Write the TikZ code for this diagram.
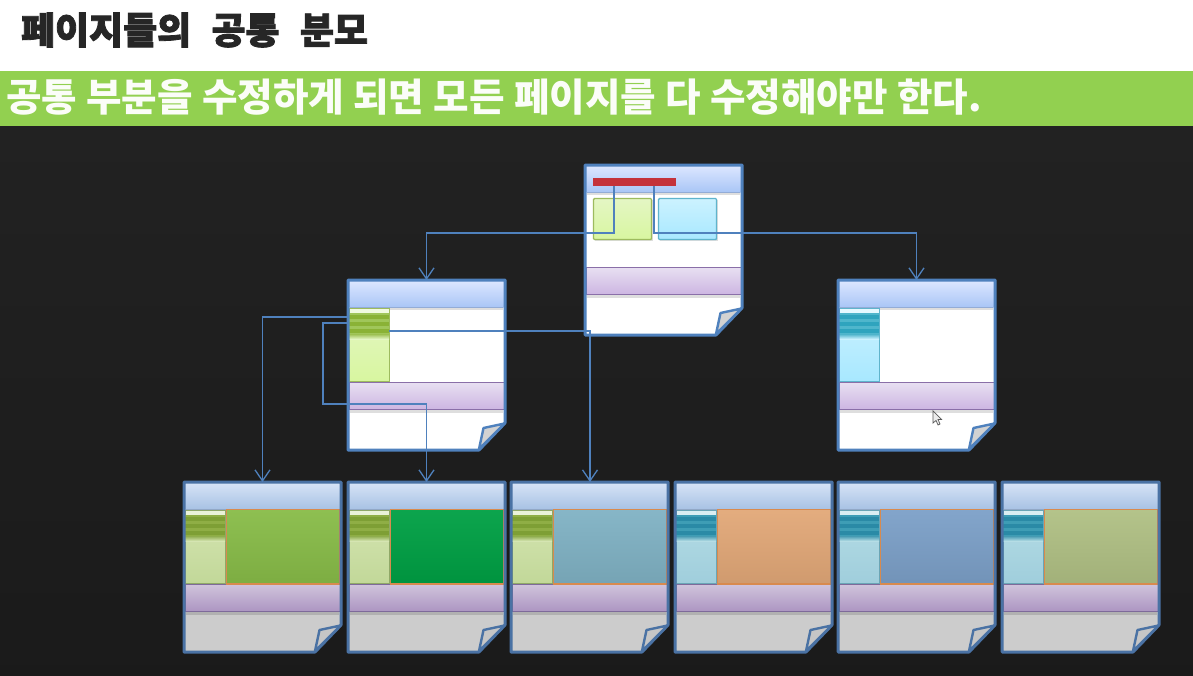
\documentclass[tikz,border=0pt]{standalone}
\usepackage{fontspec}
\setmainfont{Noto Sans CJK KR}
\newfontfamily\krbold{Noto Sans CJK KR}[WordSpace=2.4,BoldFeatures={FakeBold=2.2}]
\newfontfamily\krsub{Noto Sans CJK KR}[WordSpace=1.05]
\usetikzlibrary{arrows.meta,calc}
\definecolor{bg}{HTML}{1F1F1F}
\definecolor{bgtop}{HTML}{222222}
\definecolor{barg}{HTML}{92D050}
\definecolor{edge}{HTML}{4F81BD}
\definecolor{conn}{HTML}{4F81BD}
\definecolor{orangeedge}{HTML}{D88A4E}
\tikzset{
  x=1pt,y=-1pt,
  inner sep=0pt,outer sep=0pt,
  box/.style={rectangle,anchor=north west},
  header/.style={box,minimum width=154pt,minimum height=26pt,top color=hdtop,bottom color=hdbot},
  footer/.style={box,minimum width=155pt,minimum height=27pt,top color=fttop,bottom color=ftbot,draw=ftline,line width=.8pt},
  side/.style={box,minimum width=40.5pt,minimum height=73pt,draw=#1,line width=1pt},
  stripes/.style={box,minimum width=40pt,minimum height=21pt,fill=#1},
  content/.style={box,minimum width=113.5pt,minimum height=74.5pt,draw=orangeedge,line width=1.2pt},
  tile/.style={box,minimum width=58pt,minimum height=41pt,rounded corners=1pt,line width=1.4pt},
  pagearea/.style={box,minimum width=157pt,minimum height=170pt},
  connector/.style={draw=conn,line width=1.3pt,-{Straight Barb[length=11pt,width=15pt,line width=1.3pt]}},
  outline/.style={draw=pageedge,line width=3pt,line join=round},
  softshadow/.style={fill=black,opacity=.13},
  heading/.style={anchor=west,text=black!85},
  subheading/.style={anchor=west,text=white!96!barg},
}
% page: name, x, y
\newcommand{\pagebase}[3]{%
  \node[pagearea] (#1) at (#2,#3) {};
  \begin{scope}[shift={(#2,#3)}]
    \fill[paper] (0,0) -- (157,0) -- (157,143) -- (131,170) -- (0,170) -- cycle;
    \node[header] (#1head) at (1.5,1) {};
    \fill[softshadow] (2,27) rectangle (155,29.5);
    \node[footer] (#1foot) at (1,102) {};
    \fill[softshadow] (2,129.5) rectangle (155,132.5);
  \end{scope}
}
\newcommand{\pagefinish}[3]{%
  \begin{scope}[shift={(#2,#3)}]
    \draw[outline] (0,0) -- (157,0) -- (157,143) -- (131,170) -- (0,170) -- cycle;
    \draw[pageedge,line width=2.4pt,line join=round,fill=foldc] (131,169) -- (135.5,148) -- (156.5,143.5) -- cycle;
  \end{scope}
}
% side panel: name, x, y, panel top, panel bottom, stripe colour, dark colour, edge
\newcommand{\sidepanel}[8]{%
  \begin{scope}[shift={(#2,#3)}]
    \node[side=#8,top color=#4,bottom color=#5] (#1side) at (1,28) {};
    \fill[#4!50!white] (1.5,28.6) rectangle (41,33);
    \node[stripes=#6] (#1stripe) at (1.2,33) {};
    \fill[#7] (1.2,35) rectangle (41.2,39);
    \fill[#7] (1.2,42) rectangle (41.2,46);
    \fill[#7] (1.2,49) rectangle (41.2,53);
    \shade[top color=#7!80!#4,bottom color=#4] (1.2,54) rectangle (41.2,59);
  \end{scope}
}
\newcommand{\bottompage}[9]{%
  \pagebase{#1}{#2}{#3}
  \sidepanel{#1}{#2}{#3}{#4}{#5}{#6}{#7}{#8}
  \begin{scope}[shift={(#2,#3)}]
    \node[content,top color=#9!95!white,bottom color=#9!92!black] (#1main) at (42.5,27.5) {};
  \end{scope}
  \pagefinish{#1}{#2}{#3}
}
\begin{document}
\begin{tikzpicture}
\useasboundingbox (0,0) rectangle (1193,675);
\fill[white] (0,0) rectangle (1193,71);
\shade[top color=bgtop,bottom color=bg!85!black] (0,126) rectangle (1193,675);
\node[box,minimum width=1193pt,minimum height=55pt,fill=barg] (band) at (0,71) {};
\node[heading] (title) at (21,30) {\fontsize{37}{42}\krbold\bfseries 페이지들의 공통 분모};
\node[subheading] (subtitle) at (6,97.5) {\fontsize{38.6}{42}\krsub\bfseries 공통 부분을 수정하게 되면 모든 페이지를 다 수정해야만 한다.};

% lit pages
\colorlet{paper}{white}\colorlet{foldc}{gray!35}
\colorlet{pageedge}{edge}
\definecolor{hdtop}{HTML}{DCE6FF}\definecolor{hdbot}{HTML}{A9C6F6}
\definecolor{fttop}{HTML}{E8E0F2}\definecolor{ftbot}{HTML}{CDB6E2}
\definecolor{ftline}{HTML}{8A6FA8}
\definecolor{lgp}{HTML}{E4F6C4}\definecolor{lgq}{HTML}{D8F6A0}
\definecolor{lgs}{HTML}{A0C65A}\definecolor{lgd}{HTML}{8AB236}\definecolor{lge}{HTML}{9DBB5E}
\definecolor{lbp}{HTML}{CCF2FF}\definecolor{lbq}{HTML}{A8E8FF}
\definecolor{lbs}{HTML}{4FB6CC}\definecolor{lbd}{HTML}{2FA4BE}\definecolor{lbe}{HTML}{5FB4CC}
\definecolor{redfill}{HTML}{C4323A}

% top page
\pagebase{top}{585}{165}
\fill[softshadow] (594.5,199.5) rectangle (653,241);
\fill[softshadow] (659.5,199.5) rectangle (718,241);
\node[tile,draw=lge,top color=lgp,bottom color=lgq] (tileg) at (593.5,198.5) {};
\node[tile,draw=lbe,top color=lbp,bottom color=lbq] (tileb) at (658.5,198.5) {};
\node[box,minimum width=83pt,minimum height=8pt,fill=redfill] (redbar) at (593,178) {};
\pagefinish{top}{585}{165}

% middle pages
\pagebase{midl}{348}{280}
\sidepanel{midl}{348}{280}{lgp}{lgq}{lgs}{lgd}{lge}
\pagefinish{midl}{348}{280}

\pagebase{midr}{838}{280}
\sidepanel{midr}{838}{280}{lbp}{lbq}{lbs}{lbd}{lbe}
\pagefinish{midr}{838}{280}

% cursor
\draw[gray!70!black,fill=white!85!gray,line width=.7pt] (933,411) -- (933,423) -- (936,420.5) -- (938,425) -- (940,424) -- (938,419.5) -- (941.5,419.5) -- cycle;

% dimmed bottom row
\begin{scope}
\colorlet{paper}{black!20}\colorlet{foldc}{gray!45}
\definecolor{pageedge}{HTML}{4A72A4}
\definecolor{hdtop}{HTML}{D6E3F6}\definecolor{hdbot}{HTML}{A8C2E4}
\definecolor{fttop}{HTML}{D0C4DC}\definecolor{ftbot}{HTML}{AD96C2}
\definecolor{ftline}{HTML}{7E6A9A}
\definecolor{gp}{HTML}{D5E5B2}\definecolor{gq}{HTML}{C2D899}
\definecolor{gs}{HTML}{8FAE45}\definecolor{gd}{HTML}{7E9F35}\definecolor{ge}{HTML}{8FA868}
\definecolor{bp}{HTML}{B5DDE5}\definecolor{bq}{HTML}{A0CEDC}
\definecolor{bs}{HTML}{3E9DB5}\definecolor{bd}{HTML}{2A8AA6}\definecolor{be}{HTML}{6AA5B5}
\definecolor{ca}{HTML}{88BC48}\definecolor{cb}{HTML}{00A044}\definecolor{cc}{HTML}{80B2C4}
\definecolor{cd}{HTML}{E2A878}\definecolor{ce}{HTML}{7CA0C8}\definecolor{cf}{HTML}{B0C084}
\bottompage{ba}{184}{482}{gp}{gq}{gs}{gd}{ge}{ca}
\bottompage{bb}{348}{482}{gp}{gq}{gs}{gd}{ge}{cb}
\bottompage{bc}{511}{482}{gp}{gq}{gs}{gd}{ge}{cc}
\bottompage{bd}{675}{482}{bp}{bq}{bs}{bd}{be}{cd}
\bottompage{be}{838}{482}{bp}{bq}{bs}{bd}{be}{ce}
\bottompage{bf}{1002}{482}{bp}{bq}{bs}{bd}{be}{cf}
\end{scope}

% connectors
\coordinate (busy) at (0,233);
\coordinate (lane) at (323,404);
\draw[connector] ([xshift=21pt]redbar.south west) |- (busy -| midl.north) -- (midl.north);
\draw[connector] ([xshift=61pt]redbar.south west) |- (busy -| midr.north) -- (midr.north);
\draw[connector] ([yshift=-4pt]midlstripe.north west) -| (ba.north);
\draw[connector] ([yshift=-10pt]midlstripe.north west) -| (lane) -- (lane -| bb.north) -- (bb.north);
\draw[connector] ([yshift=3pt]midlstripe.south east) -| ([xshift=.5pt]bc.north);
\end{tikzpicture}
\end{document}
